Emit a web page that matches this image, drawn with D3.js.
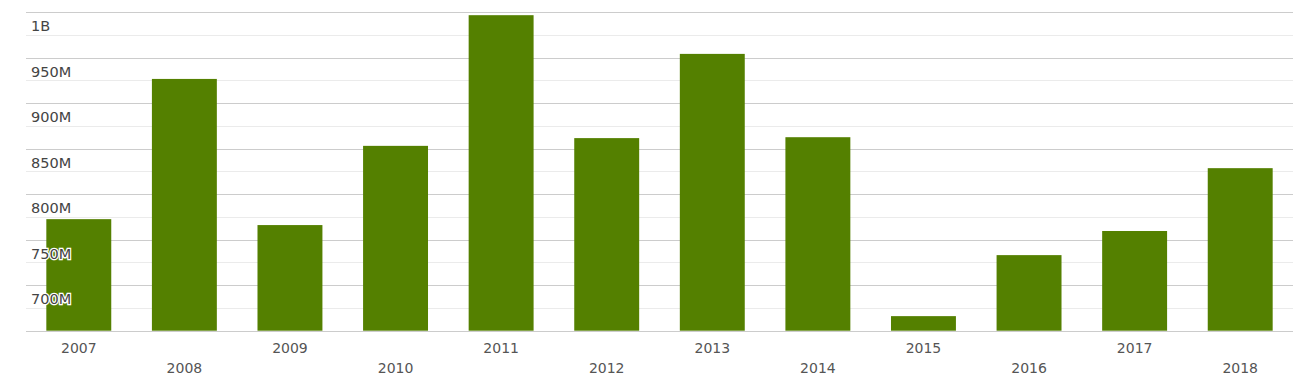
<!DOCTYPE html>
<html>
<head>
<meta charset="utf-8">
<script src="https://cdn.jsdelivr.net/npm/d3@7"></script>
<style>
  body { margin: 0; background: #fff; }
  svg { display: block; font-family: "DejaVu Sans", sans-serif; }
</style>
</head>
<body>
<div id="chart"></div>
<script>
// values in millions
let years = ["2007", "2008", "2009", "2010", "2011", "2012", "2013", "2014", "2015", "2016", "2017", "2018"];
let values = [772.5, 926.5, 766, 853, 996.5, 861.5, 954, 862.5, 666, 733, 759.5, 828.5];
let majorTicks = [700, 750, 800, 850, 900, 950, 1000];
let minorTicks = [675, 725, 775, 825, 875, 925, 975];

let width = 1293;
let height = 384;
let plotLeft = 26;
let plotRight = 1293;
let plotTop = 12;
let plotBottom = 330.7;

let svg = d3.select("#chart").append("svg")
  .attr("width", width)
  .attr("height", height);

let xScale = d3.scaleBand()
  .domain(years)
  .range([plotLeft, plotRight])
  .paddingInner(0.385)
  .paddingOuter(0.1925);

let yScale = d3.scaleLinear()
  .domain([650, 1000])
  .range([plotBottom, plotTop]);

function fmt(v) {
  return v >= 1000 ? (v / 1000) + "B" : v + "M";
}

// gridlines
svg.append("g").selectAll("line.minor").data(minorTicks)
  .enter().append("line")
  .attr("x1", plotLeft).attr("x2", plotRight)
  .attr("y1", d => Math.round(yScale(d)) + 0.5)
  .attr("y2", d => Math.round(yScale(d)) + 0.5)
  .attr("stroke", "#ebebeb");

svg.append("g").selectAll("line.major").data(majorTicks.concat([650]))
  .enter().append("line")
  .attr("x1", plotLeft).attr("x2", plotRight)
  .attr("y1", d => Math.round(yScale(d)) + 0.5)
  .attr("y2", d => Math.round(yScale(d)) + 0.5)
  .attr("stroke", "#cccccc");

// bars
svg.append("g").selectAll("rect").data(values)
  .enter().append("rect")
  .attr("x", (d, i) => xScale(years[i]))
  .attr("width", xScale.bandwidth())
  .attr("y", d => yScale(d))
  .attr("height", d => yScale(650) - yScale(d))
  .attr("fill", "#548000");

// y labels inside the plot
svg.append("g").selectAll("text").data(majorTicks)
  .enter().append("text")
  .attr("x", 31)
  .attr("y", d => yScale(d) + 19)
  .attr("font-size", "14.5px")
  .attr("fill", "#444")
  .attr("stroke", "#fff")
  .attr("stroke-width", 2.5)
  .attr("paint-order", "stroke")
  .text(fmt);

// x axis labels, staggered
let xAxis = d3.axisBottom(xScale).tickSize(0).tickPadding(0);
let gx = svg.append("g")
  .attr("transform", `translate(0, ${plotBottom})`)
  .call(xAxis);
gx.select(".domain").remove();
gx.selectAll("text")
  .attr("font-family", "DejaVu Sans, sans-serif")
  .attr("font-size", "14px")
  .attr("fill", "#555")
  .attr("dy", null)
  .attr("y", (d, i) => i % 2 === 0 ? 22 : 42);
</script>
</body>
</html>
